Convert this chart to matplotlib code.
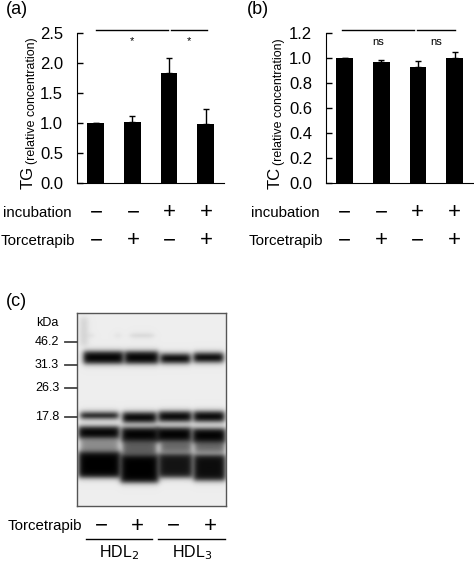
import numpy as np
import matplotlib
matplotlib.use("Agg")
import matplotlib.pyplot as plt

plt.rcParams['font.family'] = ['Liberation Sans', 'DejaVu Sans']

W, H = 474, 563

groups = [1, 2, 3, 4]
incubation = ["−", "−", "+", "+"]
torcetrapib = ["−", "+", "−", "+"]

tg_values = [1.0, 1.02, 1.84, 0.98]
tg_errors = [0.0, 0.09, 0.25, 0.25]
tg_ticks = [0.0, 0.5, 1.0, 1.5, 2.0, 2.5]

tc_values = [1.0, 0.97, 0.93, 1.0]
tc_errors = [0.0, 0.015, 0.045, 0.05]
tc_ticks = [0.0, 0.2, 0.4, 0.6, 0.8, 1.0, 1.2]

kda_labels = ["46.2", "31.3", "26.3", "17.8"]
kda_rows = [342, 365, 388, 417]

blot_signs = ["−", "+", "−", "+"]
hdl_labels = ["HDL$_2$", "HDL$_3$"]

# bands on the blot, picture pixels: x0, x1, y centre, half thickness, darkness
band_x0 = [83, 124, 160, 193, 80, 122, 158, 193, 78, 121, 156, 192, 78, 120, 158, 193, 80, 122, 160, 194, 80, 88, 115, 130]
band_x1 = [123, 158, 190, 223, 118, 156, 191, 224, 119, 158, 191, 225, 120, 158, 192, 225, 118, 156, 191, 224, 87, 93, 120, 153]
band_y = [357, 357, 358, 357, 415, 417, 416, 416, 432, 434, 434, 435, 464, 468, 465, 467, 445, 447, 446, 446, 331, 335, 335, 335]
band_h = [6, 6, 4.5, 4.5, 3, 5, 5, 5, 6, 7, 7, 7, 13, 14, 12, 13, 7, 8, 6, 6, 14, 0.7, 0.7, 0.8]
band_d = [1.0, 1.0, 1.0, 1.0, 0.95, 1.0, 1.0, 1.0, 1.0, 1.0, 1.0, 1.0, 1.0, 1.0, 0.92, 0.95, 0.4, 0.6, 0.55, 0.55, 0.12, 0.1, 0.1, 0.15]


def draw_bars(rect, values, errors, ticks, top):
    x0, y0, x1, y1 = rect
    ax = fig.add_axes([x0 / W, 1 - y1 / H, (x1 - x0) / W, (y1 - y0) / H])
    ax.bar(groups, values, width=0.46, color="black")
    ax.errorbar(groups, values, yerr=[[0] * 4, errors], fmt="none", ecolor="black",
                elinewidth=1, capsize=2, capthick=1)
    ax.set_xlim(0.49, 4.5)
    ax.set_ylim(0, top)
    ax.set_xticks([])
    ax.set_yticks(ticks)
    ax.set_yticklabels([f"{t:.1f}" for t in ticks], fontsize=12)
    ax.tick_params(axis="y", direction="in", length=4, width=1, pad=10)
    ax.spines["top"].set_visible(False)
    ax.spines["right"].set_visible(False)
    return ax


def blur(img, size=5, sd=1.0):
    k = np.exp(-0.5 * (np.arange(size) - size // 2) ** 2 / sd ** 2)
    k = k / k.sum()
    pad = np.pad(img, size // 2, mode="edge")
    pad = np.apply_along_axis(lambda r: np.convolve(r, k, mode="same"), 0, pad)
    pad = np.apply_along_axis(lambda r: np.convolve(r, k, mode="same"), 1, pad)
    return pad[size // 2:-(size // 2), size // 2:-(size // 2)]


fig = plt.figure(figsize=(W / 100, H / 100), dpi=100)

draw_bars((77, 33, 224, 183), tg_values, tg_errors, tg_ticks, 2.5)
draw_bars((326, 33, 473, 183), tc_values, tc_errors, tc_ticks, 1.2)

# blot
yy, xx = np.mgrid[313:506, 77:226]
light = np.full(xx.shape, 0.93)
for x0, x1, yc, h, d in zip(band_x0, band_x1, band_y, band_h, band_d):
    fx = 1 / (1 + np.exp((x0 - xx) / 1.5)) * 1 / (1 + np.exp((xx - x1) / 1.5))
    fy = 1 / (1 + np.exp((np.abs(yy - yc) - h) / 1.5))
    light = light * (1 - d * fx * fy)
ax_blot = fig.add_axes([77 / W, 1 - 506 / H, 149 / W, 193 / H])
ax_blot.imshow(blur(light), cmap="gray", vmin=0, vmax=1, aspect="auto")
ax_blot.set_xticks([])
ax_blot.set_yticks([])
for s in ax_blot.spines.values():
    s.set_color("#555555")
    s.set_linewidth(1)

# overlay in picture pixels for labels and brackets
ov = fig.add_axes([0, 0, 1, 1], facecolor="none")
ov.set_xlim(0, W)
ov.set_ylim(H, 0)
ov.axis("off")

ov.text(6, 9, "(a)", fontsize=13, va="center")
ov.text(247, 9, "(b)", fontsize=13, va="center")
ov.text(6, 301, "(c)", fontsize=13, va="center")

ov.text(28, 189, "TG", fontsize=12, rotation=90, ha="center", va="bottom")
ov.text(32, 164, "(relative concentration)", fontsize=8.9, rotation=90, ha="center", va="bottom")
ov.text(275, 189, "TC", fontsize=12, rotation=90, ha="center", va="bottom")
ov.text(279, 165, "(relative concentration)", fontsize=8.9, rotation=90, ha="center", va="bottom")

for x_centres, right in [((96, 133, 169, 206), 72), ((344, 381, 417, 454), 320)]:
    ov.text(right, 213, "incubation", fontsize=10.8, ha="right", va="center")
    ov.text(right + 3, 241, "Torcetrapib", fontsize=10.8, ha="right", va="center")
    for x, inc, tor in zip(x_centres, incubation, torcetrapib):
        ov.text(x, 213, inc, fontsize=16, ha="center", va="center")
        ov.text(x, 241, tor, fontsize=16, ha="center", va="center")

for x0, x1 in [(96, 168), (171, 207), (342, 414), (417, 455)]:
    ov.plot([x0, x1], [30, 30], color="black", lw=1)
ov.text(132, 41, "*", fontsize=8, ha="center", va="center")
ov.text(189, 41, "*", fontsize=8, ha="center", va="center")
ov.text(378, 42, "ns", fontsize=8, ha="center", va="center")
ov.text(436, 42, "ns", fontsize=8, ha="center", va="center")

ov.text(47, 323, "kDa", fontsize=9, ha="center", va="center")
for label, y in zip(kda_labels, kda_rows):
    ov.text(47, y, label, fontsize=9, ha="center", va="center")
    ov.plot([65, 77], [y, y], color="#444444", lw=1.3)

ov.text(82, 526, "Torcetrapib", fontsize=10.8, ha="right", va="center")
for x, sign in zip((101, 137, 173, 210), blot_signs):
    ov.text(x, 526, sign, fontsize=16, ha="center", va="center")
ov.plot([86, 152], [539, 539], color="black", lw=1)
ov.plot([158, 225], [539, 539], color="black", lw=1)
ov.text(119, 553, hdl_labels[0], fontsize=11.5, ha="center", va="center", math_fontfamily="custom")
ov.text(192, 553, hdl_labels[1], fontsize=11.5, ha="center", va="center", math_fontfamily="custom")

fig.savefig("out.png", dpi=100)
